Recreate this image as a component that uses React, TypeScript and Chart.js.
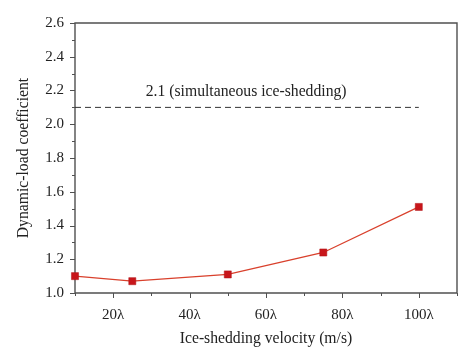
import React, { useEffect, useRef } from "react";
import { Chart, registerables } from "chart.js";

Chart.register(...registerables);

const velocities = [10, 25, 50, 75, 100];
const coefficients = [1.1, 1.07, 1.11, 1.24, 1.51];
const referenceX = [10, 100];
const referenceValue = 2.1;
const referenceLabel = "2.1 (simultaneous ice-shedding)";
const xLabels = [20, 40, 60, 80, 100];
const yTicks = [1.0, 1.2, 1.4, 1.6, 1.8, 2.0, 2.2, 2.4, 2.6];

const FONT = "'Liberation Serif', 'DejaVu Serif', serif";
const AXIS = "#505050";

const framePlugin = {
  id: "frame",
  beforeDatasetsDraw(chart: any) {
    const { ctx, chartArea } = chart;
    const xs = chart.scales.x;
    const ys = chart.scales.y;
    ctx.save();
    ctx.setLineDash([]);
    ctx.strokeStyle = AXIS;
    ctx.lineWidth = 1.4;
    ctx.beginPath();
    ctx.rect(chartArea.left, chartArea.top, chartArea.right - chartArea.left, chartArea.bottom - chartArea.top);
    ctx.stroke();
    ctx.lineWidth = 1;
    for (let v = 10; v <= 110; v += 10) {
      const px = Math.round(xs.getPixelForValue(v)) + 0.5;
      const major = v % 20 === 0;
      ctx.beginPath();
      ctx.moveTo(px, chartArea.bottom);
      ctx.lineTo(px, chartArea.bottom + (major ? 5 : 3));
      ctx.stroke();
    }
    for (let i = 0; i <= 16; i++) {
      const v = 1.0 + i * 0.1;
      const py = Math.round(ys.getPixelForValue(v)) + 0.5;
      const major = i % 2 === 0;
      ctx.beginPath();
      ctx.moveTo(chartArea.left, py);
      ctx.lineTo(chartArea.left - (major ? 5 : 3), py);
      ctx.stroke();
    }
    ctx.fillStyle = "#222";
    ctx.font = `15.7px ${FONT}`;
    ctx.textAlign = "center";
    ctx.textBaseline = "alphabetic";
    ctx.fillText(referenceLabel, xs.getPixelForValue(54.8), ys.getPixelForValue(2.167));
    ctx.restore();
  },
};

export default function App() {
  const ref = useRef<HTMLCanvasElement>(null);
  useEffect(() => {
    document.body.style.margin = "0";
    const chart = new Chart(ref.current!, {
      type: "scatter",
      data: {
        datasets: [
          {
            data: velocities.map((v, i) => ({ x: v, y: coefficients[i] })),
            showLine: true,
            clip: false,
            borderColor: "#d9402c",
            borderWidth: 1.3,
            backgroundColor: "#c8161b",
            pointBorderColor: "#b01216",
            pointBorderWidth: 0.5,
            pointStyle: "rect",
            pointRadius: 5,
          },
          {
            data: referenceX.map((x) => ({ x, y: referenceValue })),
            showLine: true,
            borderColor: "#333",
            borderWidth: 1,
            borderDash: [6, 4],
            pointRadius: 0,
          },
        ],
      },
      options: {
        animation: false,
        responsive: false,
        maintainAspectRatio: false,
        layout: { padding: { left: 0, top: 23, right: 17, bottom: 0 } },
        plugins: { legend: { display: false }, tooltip: { enabled: false } },
        scales: {
          x: {
            type: "linear",
            min: 10,
            max: 110,
            grid: { display: true, color: "transparent", drawOnChartArea: false, tickLength: 0 },
            border: { display: false },
            afterBuildTicks: (s: any) => {
              s.ticks = xLabels.map((v) => ({ value: v }));
            },
            afterFit: (s: any) => {
              s.height = 69;
            },
            ticks: {
              padding: 13,
              color: "#222",
              font: { family: FONT, size: 15 },
              maxRotation: 0,
              callback: (v: any) => `${v}λ`,
            },
            title: {
              display: true,
              text: "Ice-shedding velocity (m/s)",
              color: "#222",
              font: { family: FONT, size: 15.7 },
              padding: { top: 2, bottom: 14 },
            },
          },
          y: {
            type: "linear",
            min: 1.0,
            max: 2.6,
            grid: { display: true, color: "transparent", drawOnChartArea: false, tickLength: 0 },
            border: { display: false },
            afterBuildTicks: (s: any) => {
              s.ticks = yTicks.map((v) => ({ value: v }));
            },
            afterFit: (s: any) => {
              s.width = 75;
            },
            ticks: {
              padding: 11,
              color: "#222",
              font: { family: FONT, size: 15 },
              callback: (v: any) => Number(v).toFixed(1),
            },
            title: {
              display: true,
              text: "Dynamic-load coefficient",
              color: "#222",
              font: { family: FONT, size: 15.7 },
              padding: { top: 14, bottom: 4 },
            },
          },
        },
      },
      plugins: [framePlugin],
    } as any);
    return () => chart.destroy();
  }, []);
  return (
    <div style={{ position: "fixed", left: 0, top: 0, width: 474, height: 362, background: "#fff" }}>
      <canvas ref={ref} width={474} height={362} style={{ width: 474, height: 362 }} />
    </div>
  );
}
